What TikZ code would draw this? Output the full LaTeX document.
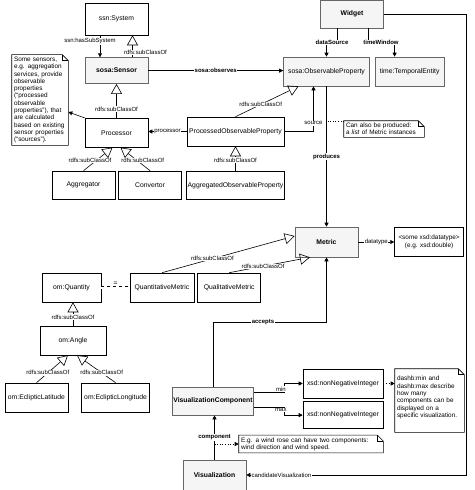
\documentclass[tikz,border=0pt]{standalone}
\usepackage{fontspec}
\setmainfont{Liberation Sans}
\usetikzlibrary{positioning, arrows, arrows.meta}
\definecolor{boxgrey}{HTML}{F5F5F5}
\definecolor{edgegrey}{HTML}{666666}

% folded corner round a note node
\newcommand{\dogear}[1]{%
  \draw (#1.north west) -- ([xshift=-6pt]#1.north east) -- ([yshift=-6pt]#1.north east)
    -- (#1.south east) -- (#1.south west) -- cycle;
  \draw ([xshift=-6pt]#1.north east) |- ([yshift=-6pt]#1.north east);}

\begin{document}
\begin{tikzpicture}[x=1pt, y=-1pt, line width=0.6pt, font=\fontsize{6.8}{8}\selectfont,
    cls/.style={draw, rectangle, minimum width=#1, minimum height=29pt, inner sep=1pt, fill=white},
    cls/.default=63pt,
    key/.style={cls=#1, draw=edgegrey, fill=boxgrey, font=\fontsize{6.8}{8}\selectfont\bfseries},
    key/.default=63pt,
    prop/.style={cls=#1, draw=edgegrey, fill=boxgrey},
    note/.style={text width=#1, align=left, inner sep=2pt, font=\fontsize{6.4}{7.3}\selectfont},
    lbl/.style={font=\fontsize{6}{7}\selectfont, fill=white, inner sep=0.5pt},
    blbl/.style={lbl, font=\fontsize{6}{7}\selectfont\bfseries},
    arr/.style={-{Triangle[length=4pt, width=4pt]}},
    isa/.style={-{Triangle[open, length=10pt, width=11pt]}}]
    \useasboundingbox (0,0) rectangle (474,490);

    \node[cls, minimum height=32pt] (system) at (116.5,19) {ssn:System};
    \node[key, minimum height=26pt] (sensor) [below=22pt of system] {sosa:Sensor};
    \node[cls] (processor) [below=34pt of sensor] {Processor};
    \node[cls, minimum height=28pt] (aggregator) at (83.5,185) {Aggregator};
    \node[cls, minimum height=28pt] (convertor) [right=3pt of aggregator] {Convertor};
    \node[cls=97pt] (pop) at (235.5,131.5) {ProcessedObservableProperty};
    \node[cls=97pt, minimum height=28pt] (aggpop) [below=25pt of pop] {AggregatedObservableProperty};
    \node[prop=86pt] (obsprop) at (326.5,71.5) {sosa:ObservableProperty};
    \node[prop=69pt] (temporal) [right=5pt of obsprop] {time:TemporalEntity};
    \node[key, minimum height=28pt] (widget) at (352,14) {Widget};
    \node[key, minimum height=30pt] (metric) at (326.5,242) {Metric};
    \node[cls=69pt, align=center, font=\fontsize{6.4}{7.6}\selectfont] (dtype) [right=36pt of metric] {<some xsd:datatype>\\(e.g. xsd:double)};
    \node[cls=59pt] (quantity) at (71.5,287.5) {om:Quantity};
    \node[cls=64pt] (quantm) at (162,287.5) {QuantitativeMetric};
    \node[cls] (qualm) [right=3pt of quantm] {QualitativeMetric};
    \node[cls=66pt] (angle) at (73,340.5) {om:Angle};
    \node[cls] (eclat) at (36.5,397.5) {om:EclipticLatitude};
    \node[cls=68pt] (eclong) [right=13pt of eclat] {om:EclipticLongitude};
    \node[key=80pt, minimum height=28pt] (vc) at (213,401) {VisualizationComponent};
    \node[key, minimum height=30pt] (vis) at (214.5,475) {Visualization};
    \node[cls=80pt] (xsd1) at (343,383.5) {xsd:nonNegativeInteger};
    \node[cls=80pt, minimum height=27pt] (xsd2) [below=3pt of xsd1] {xsd:nonNegativeInteger};

    \node[note=52pt] (sensnote) at (40,100) {Some sensors,\\ e.g. aggregation\\ services, provide\\ observable\\ properties\\ (“processed\\ observable\\ properties”), that\\ are calculated\\ based on existing\\ sensor properties\\ (“sources”).};
    \node[note=76pt] (prodnote) at (384,129) {Can also be produced:\\ a \textit{list} of Metric instances};
    \node[note=65pt, minimum height=63pt] (dashnote) at (429.5,400.5) {dashb:min and\\ dashb:max describe\\ how many\\ components can be\\ displayed on a\\ specific visualization.\\ ~};
    \node[note=140pt] (windnote) at (311,444) {E.g. a wind rose can have two components:\\ wind direction and wind speed.};
    \dogear{sensnote}
    \dogear{prodnote}
    \dogear{dashnote}
    \dogear{windnote}

    % subclass links
    \path ([xshift=16pt]sensor.north) edge[isa] node[lbl, pos=0.23, xshift=13pt] {rdfs:subClassOf} ([xshift=16pt]system.south);
    \path (processor.north) edge[isa] node[lbl, pos=0.26] {rdfs:subClassOf} (sensor.south);
    \path (aggregator.north) edge[isa] node[lbl, pos=0.45, xshift=-6.5pt] {rdfs:subClassOf} ([xshift=-4pt]processor.south);
    \path (convertor.north) edge[isa] node[lbl, pos=0.45, xshift=6pt] {rdfs:subClassOf} ([xshift=4pt]processor.south);
    \path (aggpop.north) edge[isa] node[lbl, pos=0.45] {rdfs:subClassOf} (pop.south);
    \path (pop.north) edge[isa] node[lbl, pos=0.4] {rdfs:subClassOf} ([xshift=-28pt]obsprop.south);
    \path (quantm.north) edge[isa] node[lbl, pos=0.38] {rdfs:subClassOf} ([yshift=6pt]metric.west);
    \path (qualm.north) edge[isa] node[lbl, pos=0.42] {rdfs:subClassOf} ([xshift=-16.5pt]metric.south);
    \path (angle.north) edge[isa] node[lbl, pos=0.375] {rdfs:subClassOf} (angle.north |- quantity.south);
    \path (eclat.north) edge[isa] node[lbl, pos=0.36] {rdfs:subClassOf} ([xshift=-5pt]angle.south);
    \path (eclong.north) edge[isa] node[lbl, pos=0.36] {rdfs:subClassOf} ([xshift=4pt]angle.south);
    \path (quantity.east) edge[double, dashed, double distance=2pt] node[above=2pt, inner sep=0pt] {=} (quantm.west);

    % properties
    \path ([xshift=-16.5pt]system.south) edge[arr] node[lbl, pos=0.27, xshift=-10pt] {ssn:hasSubSystem} ([xshift=-16.5pt]sensor.north);
    \path (sensor.east) edge[arr] node[blbl] {sosa:observes} (sensor.east -| obsprop.west);
    \path (pop.west) edge[arr] node[lbl] {processor} (pop.west -| processor.east);
    \draw[arr] (pop.east) -| node[lbl, pos=0.59] {source} ([xshift=-13pt]obsprop.south);
    \path (obsprop.south) edge[arr] node[blbl] {produces} (metric.north);
    \path (metric.east) edge[arr] node[lbl] {datatype} (metric.east -| dtype.west);
    \draw[arr] ([xshift=-15pt]widget.south) -- ++(0,14) node[blbl, xshift=-5pt] {dataSource} -| (obsprop.north);
    \draw[arr] ([xshift=16pt]widget.south) -- ++(0,14) node[blbl, xshift=13pt] {timeWindow} -| ([xshift=-15pt]temporal.north);
    \draw[arr] (widget.east) -- ++(82,0) |- node[lbl, pos=0.92] {candidateVisualization} (vis.east);
    \draw[arr] (vc.north) |- node[blbl, pos=0.72] {accepts} ([yshift=-65pt]metric.south) -- (metric.south);
    \path (vis.north) edge[arr] node[blbl] {component} (vis.north |- vc.south);
    \draw[arr] ([yshift=9pt]vc.east) -- ++(30,0) node[lbl, xshift=-3pt, yshift=3pt] {min} |- (xsd1.west);
    \draw[arr] ([yshift=-6pt]vc.east) -- ++(30,0) node[lbl, xshift=-3pt, yshift=-3pt] {max} |- (xsd2.west);

    % note links
    \path (processor.north west) edge[arr] ([yshift=-12pt]sensnote.east);
    \coordinate (prodtick) at ([yshift=-1pt]prodnote.north west);
    \path (prodtick) edge[dotted] (prodtick -| obsprop.south);
    \path (windnote.west -| vis.north) edge[dotted, arr] (windnote.west);
    \path (xsd1.east) edge[dotted, arr] (xsd1.east -| dashnote.west);
\end{tikzpicture}
\end{document}
